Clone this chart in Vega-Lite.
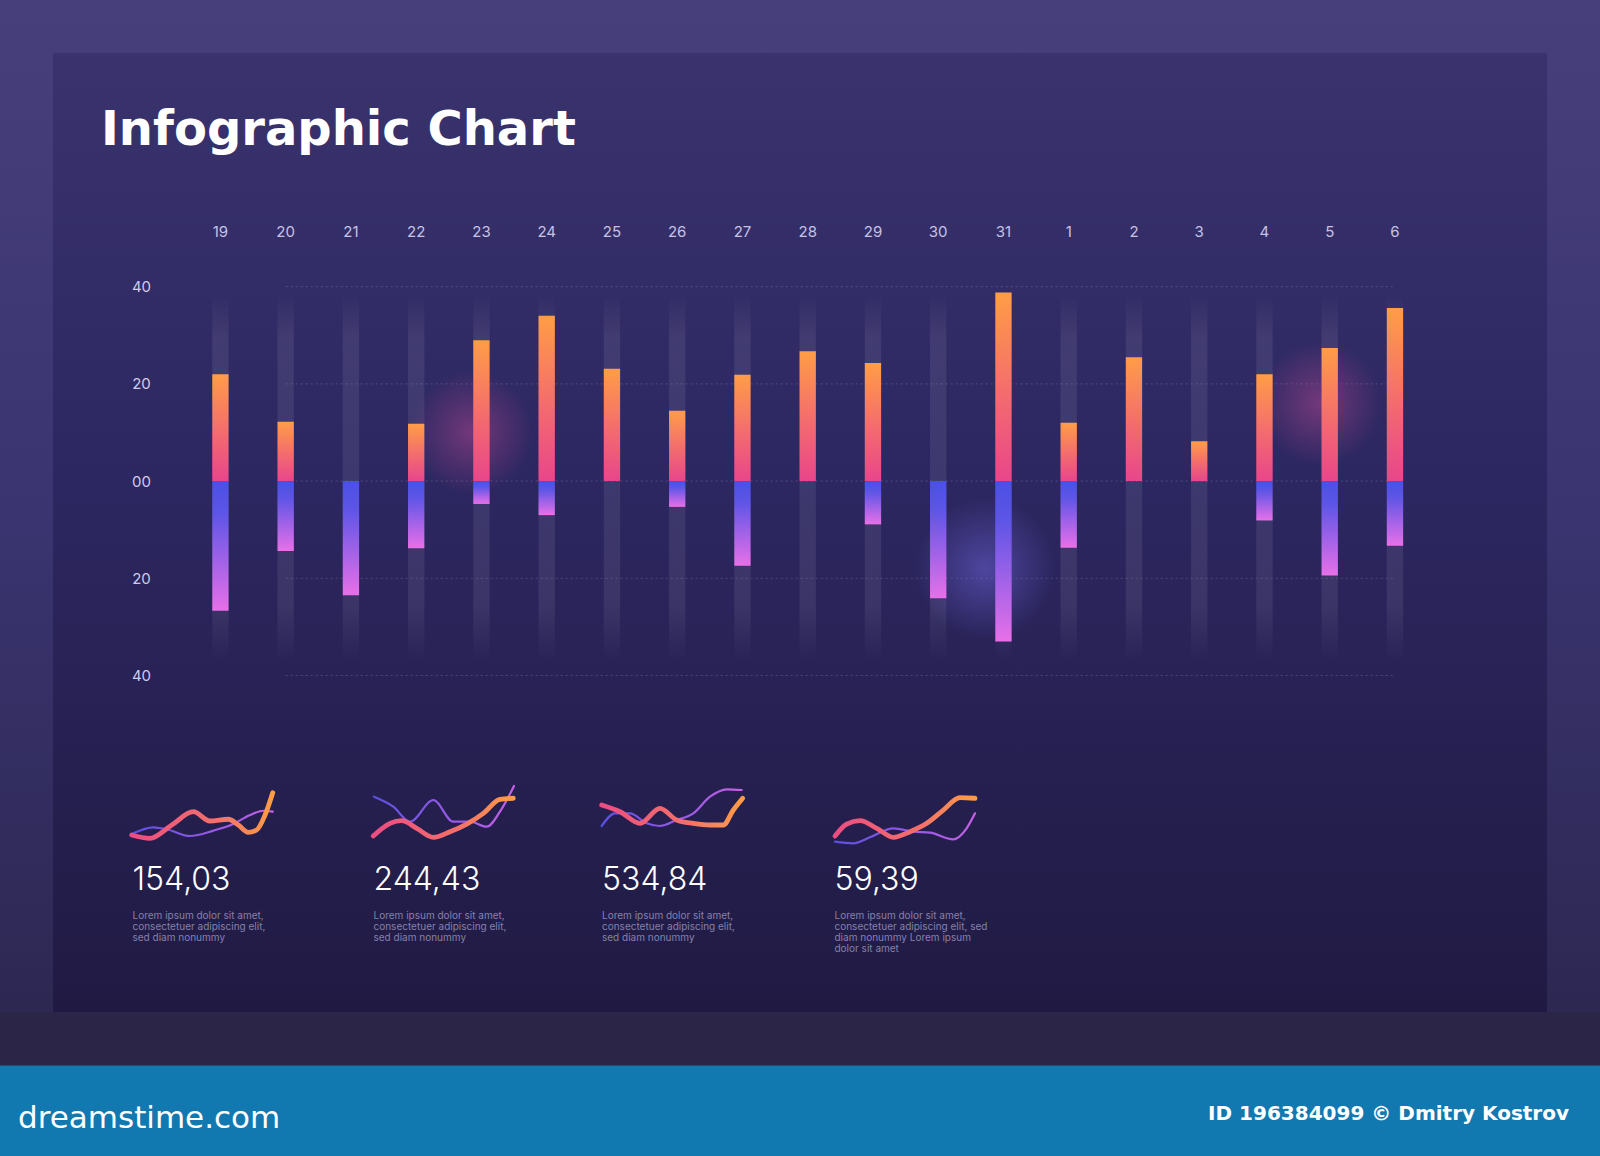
{
  "$schema": "https://vega.github.io/schema/vega-lite/v6.json",
  "width": 1600,
  "height": 1156,
  "autosize": "none",
  "padding": 0,
  "background": "#2b2548",
  "view": {
    "fill": {"gradient": "linear", "x1": 0, "y1": 0, "x2": 0, "y2": 1, "stops": [
      {"offset": 0, "color": "#3b346f"},
      {"offset": 0.42, "color": "#2d2761"},
      {"offset": 0.875, "color": "#201a43"},
      {"offset": 0.8755, "color": "#2b2548"},
      {"offset": 0.9215, "color": "#2b2548"},
      {"offset": 0.922, "color": "#1278b0"},
      {"offset": 1, "color": "#1278b0"}
    ]},
    "stroke": {"gradient": "linear", "x1": 0, "y1": 0, "x2": 0, "y2": 1, "stops": [
      {"offset": 0, "color": "#463f7c"},
      {"offset": 0.45, "color": "#3a3470"},
      {"offset": 0.875, "color": "#2d2852"},
      {"offset": 0.8755, "color": "#2b2548"},
      {"offset": 0.9215, "color": "#2b2548"},
      {"offset": 0.922, "color": "#1278b0"},
      {"offset": 1, "color": "#1278b0"}
    ]},
    "strokeWidth": 106
  },
  "title": {
    "text": "Infographic Chart",
    "anchor": "start",
    "frame": "group",
    "orient": "top",
    "offset": -193,
    "dx": 101,
    "baseline": "alphabetic",
    "font": "DejaVu Sans",
    "fontSize": 48,
    "fontWeight": 700,
    "color": "#ffffff"
  },
  "config": {
    "font": "Inter",
    "axis": {"labelFont": "Inter", "grid": false, "domain": false, "ticks": false, "tickSize": 0}
  },
  "resolve": {"scale": {"x": "independent", "y": "independent"}},
  "layer": [
    {
      "data": {"values": [
        {"day": "19", "pos": 22.0, "neg": -26.7},
        {"day": "20", "pos": 12.2, "neg": -14.4},
        {"day": "21", "pos": 0, "neg": -23.5},
        {"day": "22", "pos": 11.8, "neg": -13.8},
        {"day": "23", "pos": 29.0, "neg": -4.7},
        {"day": "24", "pos": 34.0, "neg": -7.0},
        {"day": "25", "pos": 23.1, "neg": 0},
        {"day": "26", "pos": 14.5, "neg": -5.3},
        {"day": "27", "pos": 21.9, "neg": -17.4},
        {"day": "28", "pos": 26.7, "neg": 0},
        {"day": "29", "pos": 24.3, "neg": -8.9},
        {"day": "30", "pos": 0, "neg": -24.1},
        {"day": "31", "pos": 38.8, "neg": -33.0},
        {"day": "1", "pos": 12.0, "neg": -13.7},
        {"day": "2", "pos": 25.5, "neg": 0},
        {"day": "3", "pos": 8.2, "neg": 0},
        {"day": "4", "pos": 22.0, "neg": -8.1},
        {"day": "5", "pos": 27.4, "neg": -19.4},
        {"day": "6", "pos": 35.6, "neg": -13.3}
      ]},
      "encoding": {
        "x": {
          "field": "day",
          "type": "nominal",
          "title": null,
          "scale": {
            "domain": ["19","20","21","22","23","24","25","26","27","28","29","30","31","1","2","3","4","5","6"],
            "range": [187.8, 1427.6],
            "paddingInner": 0.75,
            "paddingOuter": 0.375
          },
          "axis": {
            "orient": "top",
            "offset": -231,
            "labelPadding": 0,
            "labelBaseline": "middle",
            "labelAngle": 0,
            "labelColor": "#c6c2e4",
            "labelFontSize": 15
          }
        },
        "y": {
          "field": "pos",
          "type": "quantitative",
          "title": null,
          "scale": {"domain": [-40, 40], "range": [675.5, 286.7], "nice": false, "zero": false},
          "axis": {
            "orient": "left",
            "offset": -141,
            "labelPadding": 0,
            "labelAlign": "center",
            "labelBaseline": "middle",
            "values": [-40, -20, 0, 20, 40],
            "labelExpr": "datum.value == 0 ? '00' : format(abs(datum.value), 'd')",
            "labelColor": "#cfcbe8",
            "labelFontSize": 15
          }
        }
      },
      "layer": [
        {
          "mark": {
            "type": "bar",
            "fill": {"gradient": "linear", "x1": 0, "y1": 0, "x2": 0, "y2": 1, "stops": [
              {"offset": 0, "color": "rgba(255,255,255,0)"},
              {"offset": 0.12, "color": "rgba(255,255,255,0.08)"},
              {"offset": 0.85, "color": "rgba(255,255,255,0.08)"},
              {"offset": 1, "color": "rgba(255,255,255,0)"}
            ]}
          },
          "encoding": {
            "y": {"datum": 38.5, "type": "quantitative"},
            "y2": {"datum": -37}
          }
        },
        {
          "data": {"values": [
            {"g": 40, "day": "20"}, {"g": 40, "day": "6"},
            {"g": 20, "day": "20"}, {"g": 20, "day": "6"},
            {"g": 0, "day": "20"}, {"g": 0, "day": "6"},
            {"g": -20, "day": "20"}, {"g": -20, "day": "6"},
            {"g": -40, "day": "20"}, {"g": -40, "day": "6"}
          ]},
          "mark": {"type": "line", "strokeDash": [2, 3], "strokeWidth": 1, "color": "rgba(255,255,255,0.16)"},
          "encoding": {
            "y": {"field": "g", "type": "quantitative"},
            "detail": {"field": "g", "type": "nominal"}
          }
        },
        {
          "data": {"values": [{"day": "23", "v": 10}, {"day": "5", "v": 16}]},
          "mark": {
            "type": "point",
            "filled": true,
            "size": 15000,
            "strokeWidth": 0,
            "opacity": 1,
            "xOffset": -10,
            "fill": {"gradient": "radial", "x1": 0.5, "y1": 0.5, "r1": 0, "x2": 0.5, "y2": 0.5, "r2": 0.5, "stops": [
              {"offset": 0, "color": "rgba(225,80,160,0.38)"},
              {"offset": 1, "color": "rgba(225,80,160,0)"}
            ]}
          },
          "encoding": {"y": {"field": "v", "type": "quantitative"}}
        },
        {
          "data": {"values": [{"day": "31", "v": -18}]},
          "mark": {
            "type": "point",
            "filled": true,
            "size": 20000,
            "strokeWidth": 0,
            "opacity": 1,
            "xOffset": -18,
            "fill": {"gradient": "radial", "x1": 0.5, "y1": 0.5, "r1": 0, "x2": 0.5, "y2": 0.5, "r2": 0.5, "stops": [
              {"offset": 0, "color": "rgba(120,110,240,0.45)"},
              {"offset": 1, "color": "rgba(120,110,240,0)"}
            ]}
          },
          "encoding": {"y": {"field": "v", "type": "quantitative"}}
        },
        {
          "transform": [{"filter": "datum.pos > 0"}],
          "mark": {
            "type": "bar",
            "fill": {"gradient": "linear", "x1": 0, "y1": 0, "x2": 0, "y2": 1, "stops": [
              {"offset": 0, "color": "#ff9d47"},
              {"offset": 0.55, "color": "#f36b6f"},
              {"offset": 1, "color": "#e8468b"}
            ]}
          },
          "encoding": {
            "y": {"field": "pos", "type": "quantitative"},
            "y2": {"datum": 0}
          }
        },
        {
          "transform": [{"filter": "datum.neg < 0"}],
          "mark": {
            "type": "bar",
            "fill": {"gradient": "linear", "x1": 0, "y1": 0, "x2": 0, "y2": 1, "stops": [
              {"offset": 0, "color": "#4a50e5"},
              {"offset": 0.25, "color": "#5e55e6"},
              {"offset": 1, "color": "#e870e8"}
            ]}
          },
          "encoding": {
            "y": {"field": "neg", "type": "quantitative"},
            "y2": {"datum": 0}
          }
        }
      ]
    },
    {
      "data": {"values": [
        {"s": "thin", "t": 1.6, "v": 23.9}, {"s": "thin", "t": 15.7, "v": 32.4}, {"s": "thin", "t": 25.1, "v": 29.6},
        {"s": "thin", "t": 41.5, "v": 20}, {"s": "thin", "t": 58, "v": 27.6}, {"s": "thin", "t": 72, "v": 37.1},
        {"s": "thin", "t": 83.8, "v": 50}, {"s": "thin", "t": 93.2, "v": 56.1}, {"s": "thin", "t": 99.8, "v": 54.7},
        {"s": "thick", "t": 0.5, "v": 21.4}, {"s": "thick", "t": 13.4, "v": 16.7}, {"s": "thick", "t": 28.7, "v": 35.7},
        {"s": "thick", "t": 43.9, "v": 54.7}, {"s": "thick", "t": 55.6, "v": 41.4}, {"s": "thick", "t": 68.5, "v": 43.9},
        {"s": "thick", "t": 75.6, "v": 35.7}, {"s": "thick", "t": 82.6, "v": 25.3}, {"s": "thick", "t": 88.5, "v": 28.6},
        {"s": "thick", "t": 94.4, "v": 50}, {"s": "thick", "t": 99.8, "v": 81.9}
      ]},
      "layer": [
        {"transform": [{"filter": "datum.s == 'thin'"}],
          "mark": {"type": "line", "interpolate": "monotone", "strokeWidth": 2.2, "strokeCap": "round",
            "stroke": {"gradient": "linear", "x1": 0, "y1": 0, "x2": 1, "y2": 0, "stops": [{"offset": 0, "color": "#5a50e2"}, {"offset": 1, "color": "#c660e6"}]}},
          "encoding": {
            "x": {"field": "t", "type": "quantitative", "scale": {"domain": [0, 100], "range": [131, 273], "nice": false, "zero": false}, "axis": null},
            "y": {"field": "v", "type": "quantitative", "scale": {"domain": [0, 100], "range": [850, 780], "nice": false, "zero": false}, "axis": null}
          }},
        {"transform": [{"filter": "datum.s == 'thick'"}],
          "mark": {"type": "line", "interpolate": "monotone", "strokeWidth": 4.8, "strokeCap": "round",
            "stroke": {"gradient": "linear", "x1": 0, "y1": 0, "x2": 1, "y2": 0, "stops": [{"offset": 0, "color": "#ec4d82"}, {"offset": 0.6, "color": "#f4706a"}, {"offset": 1, "color": "#ff9d45"}]}},
          "encoding": {
            "x": {"field": "t", "type": "quantitative", "axis": null},
            "y": {"field": "v", "type": "quantitative", "axis": null}
          }}
      ]
    },
    {
      "data": {"values": [
        {"s": "thin", "t": 0.7, "v": 76.1}, {"s": "thin", "t": 14.3, "v": 61.9}, {"s": "thin", "t": 26.1, "v": 40.4},
        {"s": "thin", "t": 42.5, "v": 71.4}, {"s": "thin", "t": 56.5, "v": 40.4}, {"s": "thin", "t": 68.3, "v": 40.4},
        {"s": "thin", "t": 80.1, "v": 33.3}, {"s": "thin", "t": 89.4, "v": 54.7}, {"s": "thin", "t": 99.3, "v": 91.4},
        {"s": "thick", "t": 0.2, "v": 20}, {"s": "thick", "t": 12, "v": 38.1}, {"s": "thick", "t": 20.2, "v": 41.9},
        {"s": "thick", "t": 30.8, "v": 31}, {"s": "thick", "t": 42.5, "v": 18.1}, {"s": "thick", "t": 54.2, "v": 26.1},
        {"s": "thick", "t": 66, "v": 37.1}, {"s": "thick", "t": 77.7, "v": 52.4}, {"s": "thick", "t": 89.4, "v": 72.4},
        {"s": "thick", "t": 98.8, "v": 73.9}
      ]},
      "layer": [
        {"transform": [{"filter": "datum.s == 'thin'"}],
          "mark": {"type": "line", "interpolate": "monotone", "strokeWidth": 2.2, "strokeCap": "round",
            "stroke": {"gradient": "linear", "x1": 0, "y1": 0, "x2": 1, "y2": 0, "stops": [{"offset": 0, "color": "#5a50e2"}, {"offset": 1, "color": "#c660e6"}]}},
          "encoding": {
            "x": {"field": "t", "type": "quantitative", "scale": {"domain": [0, 100], "range": [373, 515], "nice": false, "zero": false}, "axis": null},
            "y": {"field": "v", "type": "quantitative", "scale": {"domain": [0, 100], "range": [850, 780], "nice": false, "zero": false}, "axis": null}
          }},
        {"transform": [{"filter": "datum.s == 'thick'"}],
          "mark": {"type": "line", "interpolate": "monotone", "strokeWidth": 4.8, "strokeCap": "round",
            "stroke": {"gradient": "linear", "x1": 0, "y1": 0, "x2": 1, "y2": 0, "stops": [{"offset": 0, "color": "#ec4d82"}, {"offset": 0.6, "color": "#f4706a"}, {"offset": 1, "color": "#ff9d45"}]}},
          "encoding": {
            "x": {"field": "t", "type": "quantitative", "axis": null},
            "y": {"field": "v", "type": "quantitative", "axis": null}
          }}
      ]
    },
    {
      "data": {"values": [
        {"s": "thin", "t": 0.5, "v": 34.3}, {"s": "thin", "t": 9.9, "v": 52.4}, {"s": "thin", "t": 20.4, "v": 52.4},
        {"s": "thin", "t": 32.2, "v": 38.1}, {"s": "thin", "t": 41.5, "v": 34.3}, {"s": "thin", "t": 53.3, "v": 42.9},
        {"s": "thin", "t": 65, "v": 52.4}, {"s": "thin", "t": 76.8, "v": 76.1}, {"s": "thin", "t": 88.5, "v": 86.7},
        {"s": "thin", "t": 99.1, "v": 85.7},
        {"s": "thick", "t": 0.5, "v": 64.3}, {"s": "thick", "t": 13.4, "v": 54.7}, {"s": "thick", "t": 27.5, "v": 38.1},
        {"s": "thick", "t": 41.5, "v": 59.6}, {"s": "thick", "t": 53.3, "v": 42.9}, {"s": "thick", "t": 65, "v": 38.1},
        {"s": "thick", "t": 76.8, "v": 35.7}, {"s": "thick", "t": 86.1, "v": 35.7}, {"s": "thick", "t": 93.2, "v": 57.1},
        {"s": "thick", "t": 99.8, "v": 73.9}
      ]},
      "layer": [
        {"transform": [{"filter": "datum.s == 'thin'"}],
          "mark": {"type": "line", "interpolate": "monotone", "strokeWidth": 2.2, "strokeCap": "round",
            "stroke": {"gradient": "linear", "x1": 0, "y1": 0, "x2": 1, "y2": 0, "stops": [{"offset": 0, "color": "#5a50e2"}, {"offset": 1, "color": "#c660e6"}]}},
          "encoding": {
            "x": {"field": "t", "type": "quantitative", "scale": {"domain": [0, 100], "range": [601, 743], "nice": false, "zero": false}, "axis": null},
            "y": {"field": "v", "type": "quantitative", "scale": {"domain": [0, 100], "range": [850, 780], "nice": false, "zero": false}, "axis": null}
          }},
        {"transform": [{"filter": "datum.s == 'thick'"}],
          "mark": {"type": "line", "interpolate": "monotone", "strokeWidth": 4.8, "strokeCap": "round",
            "stroke": {"gradient": "linear", "x1": 0, "y1": 0, "x2": 1, "y2": 0, "stops": [{"offset": 0, "color": "#ec4d82"}, {"offset": 0.6, "color": "#f4706a"}, {"offset": 1, "color": "#ff9d45"}]}},
          "encoding": {
            "x": {"field": "t", "type": "quantitative", "axis": null},
            "y": {"field": "v", "type": "quantitative", "axis": null}
          }}
      ]
    },
    {
      "data": {"values": [
        {"s": "thin", "t": 0, "v": 11.9}, {"s": "thin", "t": 12.9, "v": 9.6}, {"s": "thin", "t": 24.6, "v": 18.1},
        {"s": "thin", "t": 41.1, "v": 31}, {"s": "thin", "t": 55.2, "v": 26.1}, {"s": "thin", "t": 66.9, "v": 24.7},
        {"s": "thin", "t": 83.3, "v": 15.3}, {"s": "thin", "t": 92.7, "v": 31}, {"s": "thin", "t": 98.6, "v": 52.4},
        {"s": "thick", "t": 0, "v": 20}, {"s": "thick", "t": 8.2, "v": 37.1}, {"s": "thick", "t": 17.6, "v": 41.9},
        {"s": "thick", "t": 29.4, "v": 31}, {"s": "thick", "t": 41.1, "v": 18.1}, {"s": "thick", "t": 52.8, "v": 26.1},
        {"s": "thick", "t": 64.6, "v": 38.1}, {"s": "thick", "t": 76.3, "v": 57.1}, {"s": "thick", "t": 88, "v": 74.7},
        {"s": "thick", "t": 98.6, "v": 73.9}
      ]},
      "layer": [
        {"transform": [{"filter": "datum.s == 'thin'"}],
          "mark": {"type": "line", "interpolate": "monotone", "strokeWidth": 2.2, "strokeCap": "round",
            "stroke": {"gradient": "linear", "x1": 0, "y1": 0, "x2": 1, "y2": 0, "stops": [{"offset": 0, "color": "#5a50e2"}, {"offset": 1, "color": "#c660e6"}]}},
          "encoding": {
            "x": {"field": "t", "type": "quantitative", "scale": {"domain": [0, 100], "range": [835, 977], "nice": false, "zero": false}, "axis": null},
            "y": {"field": "v", "type": "quantitative", "scale": {"domain": [0, 100], "range": [850, 780], "nice": false, "zero": false}, "axis": null}
          }},
        {"transform": [{"filter": "datum.s == 'thick'"}],
          "mark": {"type": "line", "interpolate": "monotone", "strokeWidth": 4.8, "strokeCap": "round",
            "stroke": {"gradient": "linear", "x1": 0, "y1": 0, "x2": 1, "y2": 0, "stops": [{"offset": 0, "color": "#ec4d82"}, {"offset": 0.6, "color": "#f4706a"}, {"offset": 1, "color": "#ff9d45"}]}},
          "encoding": {
            "x": {"field": "t", "type": "quantitative", "axis": null},
            "y": {"field": "v", "type": "quantitative", "axis": null}
          }}
      ]
    },
    {
      "data": {"values": [
        {"n": 1, "label": "154,03", "l1": "Lorem ipsum dolor sit amet,", "l2": "consectetuer adipiscing elit,", "l3": "sed diam nonummy", "l4": ""},
        {"n": 2, "label": "244,43", "l1": "Lorem ipsum dolor sit amet,", "l2": "consectetuer adipiscing elit,", "l3": "sed diam nonummy", "l4": ""},
        {"n": 3, "label": "534,84", "l1": "Lorem ipsum dolor sit amet,", "l2": "consectetuer adipiscing elit,", "l3": "sed diam nonummy", "l4": ""},
        {"n": 4, "label": "59,39", "l1": "Lorem ipsum dolor sit amet,", "l2": "consectetuer adipiscing elit, sed", "l3": "diam nonummy Lorem ipsum", "l4": "dolor sit amet"}
      ]},
      "layer": [
        {
          "mark": {"type": "text", "align": "left", "baseline": "alphabetic", "font": "Inter", "fontWeight": 300, "fontSize": 32, "color": "#ffffff"},
          "encoding": {
            "x": {"field": "n", "type": "quantitative", "scale": {"domain": [1, 2, 3, 4], "range": [132.5, 373.5, 602, 834.5], "nice": false, "zero": false}, "axis": null},
            "y": {"datum": 0, "type": "quantitative", "scale": {"domain": [0, 100], "range": [890, 790], "nice": false, "zero": false}, "axis": null},
            "text": {"field": "label", "type": "nominal"}
          }
        },
        {
          "mark": {"type": "text", "align": "left", "baseline": "middle", "font": "Inter", "fontSize": 10, "color": "#8581ab"},
          "encoding": {
            "x": {"field": "n", "type": "quantitative", "axis": null},
            "y": {"datum": -25.7, "type": "quantitative", "axis": null},
            "text": {"field": "l1", "type": "nominal"}
          }
        },
        {
          "mark": {"type": "text", "align": "left", "baseline": "middle", "font": "Inter", "fontSize": 10, "color": "#8581ab"},
          "encoding": {
            "x": {"field": "n", "type": "quantitative", "axis": null},
            "y": {"datum": -36.7, "type": "quantitative", "axis": null},
            "text": {"field": "l2", "type": "nominal"}
          }
        },
        {
          "mark": {"type": "text", "align": "left", "baseline": "middle", "font": "Inter", "fontSize": 10, "color": "#8581ab"},
          "encoding": {
            "x": {"field": "n", "type": "quantitative", "axis": null},
            "y": {"datum": -48, "type": "quantitative", "axis": null},
            "text": {"field": "l3", "type": "nominal"}
          }
        },
        {
          "mark": {"type": "text", "align": "left", "baseline": "middle", "font": "Inter", "fontSize": 10, "color": "#8581ab"},
          "encoding": {
            "x": {"field": "n", "type": "quantitative", "axis": null},
            "y": {"datum": -59.3, "type": "quantitative", "axis": null},
            "text": {"field": "l4", "type": "nominal"}
          }
        }
      ]
    },
    {
      "data": {"values": [
        {"side": "L", "label": "dreamstime.com"},
        {"side": "R", "label": "ID 196384099 © Dmitry Kostrov"}
      ]},
      "layer": [
        {"transform": [{"filter": "datum.side == 'L'"}],
          "mark": {"type": "text", "align": "left", "baseline": "alphabetic", "font": "DejaVu Sans", "fontSize": 31, "color": "#ffffff"},
          "encoding": {
            "x": {"field": "side", "type": "nominal", "scale": {"type": "point", "domain": ["L", "R"], "range": [18, 1569], "padding": 0}, "axis": null},
            "y": {"datum": 0, "type": "quantitative", "scale": {"domain": [0, 100], "range": [1128, 1028], "nice": false, "zero": false}, "axis": null},
            "text": {"field": "label", "type": "nominal"}
          }},
        {"transform": [{"filter": "datum.side == 'R'"}],
          "mark": {"type": "text", "align": "right", "baseline": "alphabetic", "font": "DejaVu Sans", "fontWeight": "bold", "fontSize": 20, "color": "#ffffff"},
          "encoding": {
            "x": {"field": "side", "type": "nominal", "axis": null},
            "y": {"datum": 8, "type": "quantitative", "axis": null},
            "text": {"field": "label", "type": "nominal"}
          }}
      ]
    }
  ]
}
